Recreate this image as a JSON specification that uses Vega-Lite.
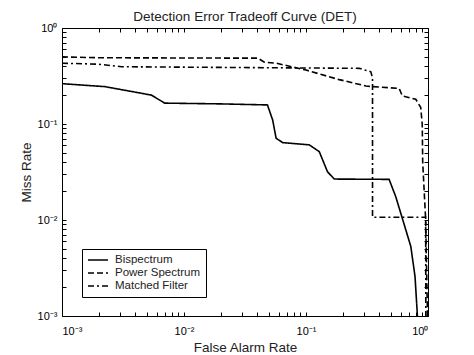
{
  "$schema": "https://vega.github.io/schema/vega-lite/v6.json",
  "width": 366,
  "height": 288,
  "autosize": "none",
  "padding": {"left": 62, "top": 28, "right": 46, "bottom": 39},
  "background": "white",
  "config": {
    "font": "Liberation Sans",
    "view": {"stroke": "black", "strokeWidth": 1},
    "axis": {"grid": false, "domainColor": "black", "tickColor": "black", "labelColor": "black", "titleColor": "#222222", "labelFont": "Liberation Sans", "titleFont": "Liberation Sans", "labelFontSize": 11, "titleFontSize": 13.5, "titleFontWeight": "normal"},
    "title": {"font": "Liberation Sans", "fontSize": 13.5, "fontWeight": "normal", "color": "#222222"}
  },
  "title": {"text": "Detection Error Tradeoff Curve (DET)", "offset": -1},
  "data": {"values": [
    {"series": "Bispectrum", "i": 1, "far": 0.001, "miss": 0.263},
    {"series": "Bispectrum", "i": 2, "far": 0.00225, "miss": 0.245},
    {"series": "Bispectrum", "i": 3, "far": 0.0054, "miss": 0.2},
    {"series": "Bispectrum", "i": 4, "far": 0.00695, "miss": 0.165},
    {"series": "Bispectrum", "i": 5, "far": 0.02, "miss": 0.162},
    {"series": "Bispectrum", "i": 6, "far": 0.0483, "miss": 0.158},
    {"series": "Bispectrum", "i": 7, "far": 0.0533, "miss": 0.11},
    {"series": "Bispectrum", "i": 8, "far": 0.0569, "miss": 0.071},
    {"series": "Bispectrum", "i": 9, "far": 0.0644, "miss": 0.064},
    {"series": "Bispectrum", "i": 10, "far": 0.1064, "miss": 0.0606},
    {"series": "Bispectrum", "i": 11, "far": 0.1285, "miss": 0.0515},
    {"series": "Bispectrum", "i": 12, "far": 0.15, "miss": 0.0318},
    {"series": "Bispectrum", "i": 13, "far": 0.1706, "miss": 0.0267},
    {"series": "Bispectrum", "i": 14, "far": 0.48, "miss": 0.0265},
    {"series": "Bispectrum", "i": 15, "far": 0.544, "miss": 0.0175},
    {"series": "Bispectrum", "i": 16, "far": 0.616, "miss": 0.0104},
    {"series": "Bispectrum", "i": 17, "far": 0.723, "miss": 0.0053},
    {"series": "Bispectrum", "i": 18, "far": 0.783, "miss": 0.00257},
    {"series": "Bispectrum", "i": 19, "far": 0.819, "miss": 0.001},
    {"series": "Power Spectrum", "i": 1, "far": 0.001, "miss": 0.5},
    {"series": "Power Spectrum", "i": 2, "far": 0.00197, "miss": 0.49},
    {"series": "Power Spectrum", "i": 3, "far": 0.0403, "miss": 0.485},
    {"series": "Power Spectrum", "i": 4, "far": 0.0456, "miss": 0.44},
    {"series": "Power Spectrum", "i": 5, "far": 0.0569, "miss": 0.43},
    {"series": "Power Spectrum", "i": 6, "far": 0.1, "miss": 0.365},
    {"series": "Power Spectrum", "i": 7, "far": 0.187, "miss": 0.29},
    {"series": "Power Spectrum", "i": 8, "far": 0.31, "miss": 0.249},
    {"series": "Power Spectrum", "i": 9, "far": 0.351, "miss": 0.245},
    {"series": "Power Spectrum", "i": 10, "far": 0.58, "miss": 0.235},
    {"series": "Power Spectrum", "i": 11, "far": 0.616, "miss": 0.196},
    {"series": "Power Spectrum", "i": 12, "far": 0.794, "miss": 0.181},
    {"series": "Power Spectrum", "i": 13, "far": 0.871, "miss": 0.149},
    {"series": "Power Spectrum", "i": 14, "far": 0.897, "miss": 0.1},
    {"series": "Power Spectrum", "i": 15, "far": 0.905, "miss": 0.04},
    {"series": "Power Spectrum", "i": 16, "far": 0.957, "miss": 0.01},
    {"series": "Power Spectrum", "i": 17, "far": 0.99, "miss": 0.001},
    {"series": "Matched Filter", "i": 1, "far": 0.001, "miss": 0.43},
    {"series": "Matched Filter", "i": 2, "far": 0.002, "miss": 0.42},
    {"series": "Matched Filter", "i": 3, "far": 0.00307, "miss": 0.395},
    {"series": "Matched Filter", "i": 4, "far": 0.273, "miss": 0.38},
    {"series": "Matched Filter", "i": 5, "far": 0.34, "miss": 0.35},
    {"series": "Matched Filter", "i": 6, "far": 0.351, "miss": 0.3},
    {"series": "Matched Filter", "i": 7, "far": 0.351, "miss": 0.0107},
    {"series": "Matched Filter", "i": 8, "far": 0.957, "miss": 0.0107},
    {"series": "Matched Filter", "i": 9, "far": 0.96, "miss": 0.001}
  ]},
  "layer": [
    {
      "mark": {"type": "line", "color": "black", "strokeWidth": 1.6, "clip": true},
      "encoding": {
        "x": {"field": "far", "type": "quantitative", "scale": {"type": "log", "domain": [0.001, 1], "nice": false},
          "axis": {"orient": "bottom", "title": "False Alarm Rate", "titlePadding": 4,
            "values": [0.001,0.002,0.003,0.004,0.005,0.006,0.007,0.008,0.009,0.01,0.02,0.03,0.04,0.05,0.06,0.07,0.08,0.09,0.1,0.2,0.3,0.4,0.5,0.6,0.7,0.8,0.9,1],
            "tickSize": -4, "labelPadding": 13, "domain": false,
            "labelExpr": "datum.value == 0.001 ? '10⁻³' : datum.value == 0.01 ? '10⁻²' : datum.value == 0.1 ? '10⁻¹' : datum.value == 1 ? '10⁰' : ''"}},
        "y": {"field": "miss", "type": "quantitative", "scale": {"type": "log", "domain": [0.001, 1], "nice": false},
          "axis": {"orient": "left", "title": "Miss Rate", "titlePadding": 4,
            "values": [0.001,0.002,0.003,0.004,0.005,0.006,0.007,0.008,0.009,0.01,0.02,0.03,0.04,0.05,0.06,0.07,0.08,0.09,0.1,0.2,0.3,0.4,0.5,0.6,0.7,0.8,0.9,1],
            "tickSize": -4, "labelPadding": 9, "domain": false,
            "labelExpr": "datum.value == 0.001 ? '10⁻³' : datum.value == 0.01 ? '10⁻²' : datum.value == 0.1 ? '10⁻¹' : datum.value == 1 ? '10⁰' : ''"}},
        "strokeDash": {"field": "series", "type": "nominal",
          "scale": {"domain": ["Bispectrum", "Power Spectrum", "Matched Filter"], "range": [[1, 0], [6, 3], [6, 3, 2, 3]]},
          "legend": {"title": null, "orient": "none", "legendX": 20, "legendY": 221, "strokeColor": "black", "fillColor": "white", "padding": 5,
            "symbolType": "M-2,0H2", "symbolStrokeColor": "black", "symbolStrokeWidth": 1.6, "symbolSize": 100, "symbolOffset": 5,
            "labelFontSize": 11.5, "labelFont": "Liberation Sans", "labelColor": "#222222", "rowPadding": 1, "labelOffset": 11}},
        "order": {"field": "i", "type": "quantitative"}
      }
    },
    {
      "mark": {"type": "line", "opacity": 0},
      "encoding": {
        "x": {"field": "far", "type": "quantitative", "scale": {"type": "log", "domain": [0.001, 1], "nice": false},
          "axis": {"orient": "top", "title": null, "labels": false, "domain": false,
            "values": [0.001,0.002,0.003,0.004,0.005,0.006,0.007,0.008,0.009,0.01,0.02,0.03,0.04,0.05,0.06,0.07,0.08,0.09,0.1,0.2,0.3,0.4,0.5,0.6,0.7,0.8,0.9,1],
            "tickSize": -4}},
        "y": {"field": "miss", "type": "quantitative", "scale": {"type": "log", "domain": [0.001, 1], "nice": false},
          "axis": {"orient": "right", "title": null, "labels": false, "domain": false,
            "values": [0.001,0.002,0.003,0.004,0.005,0.006,0.007,0.008,0.009,0.01,0.02,0.03,0.04,0.05,0.06,0.07,0.08,0.09,0.1,0.2,0.3,0.4,0.5,0.6,0.7,0.8,0.9,1],
            "tickSize": -4}},
        "detail": {"field": "series", "type": "nominal"},
        "order": {"field": "i", "type": "quantitative"}
      }
    }
  ],
  "resolve": {"axis": {"x": "independent", "y": "independent"}}
}
